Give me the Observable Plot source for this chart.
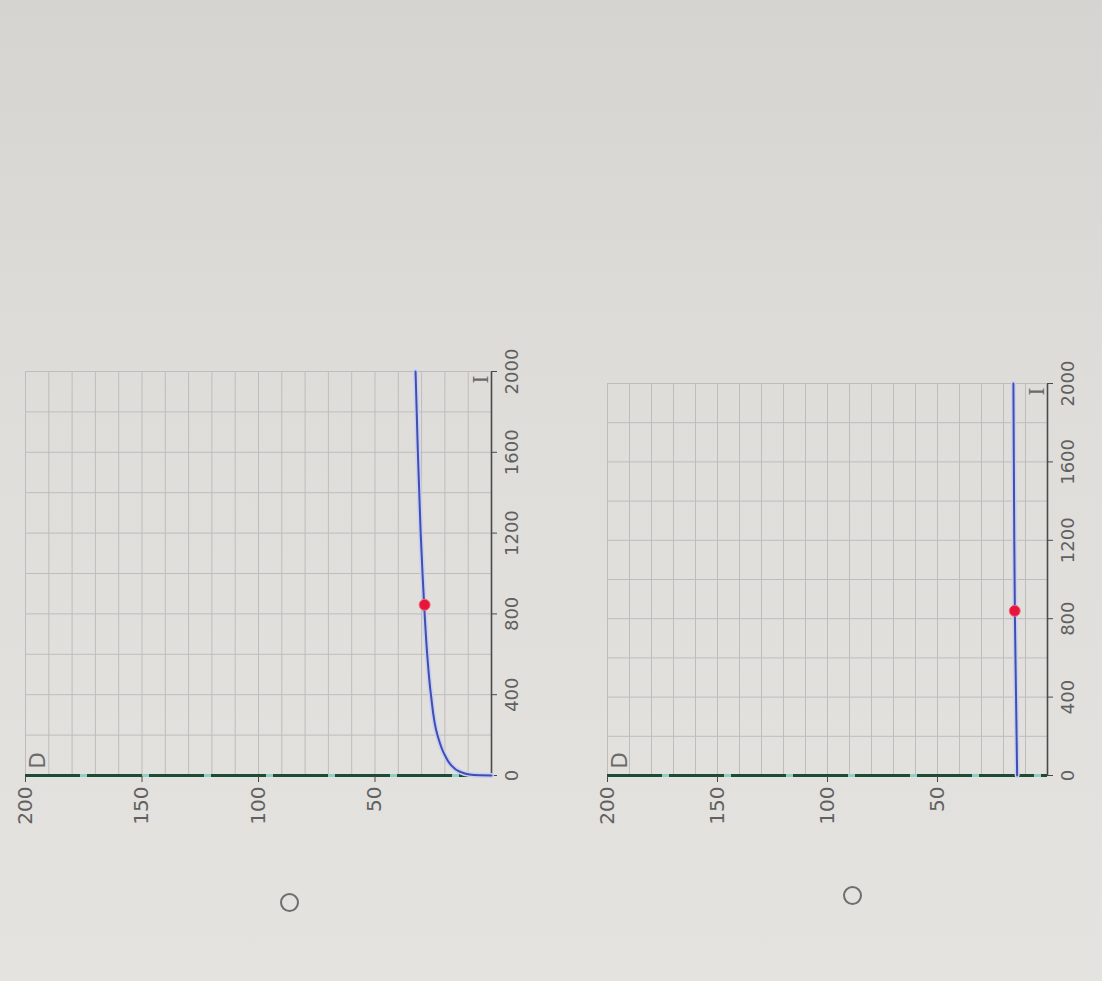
<!DOCTYPE html>
<html>
<head>
<meta charset="utf-8">
<script src="https://cdn.jsdelivr.net/npm/d3@7"></script>
<script src="https://cdn.jsdelivr.net/npm/@observablehq/plot@0.6"></script>
<style>
  html, body { margin: 0; padding: 0; }
  body {
    width: 1102px; height: 981px; overflow: hidden; position: relative;
    background: linear-gradient(to bottom, #d6d4d0 0%, #dfddd9 40%, #e5e3df 100%);
    font-family: "DejaVu Sans", sans-serif;
  }
  .chart { position: absolute; transform-origin: 0 0; }
  .radio {
    position: absolute; width: 15px; height: 15px; border-radius: 50%;
    border: 2.5px solid #6e6e6e; box-sizing: content-box;
  }
</style>
</head>
<body>
<div id="c1" class="chart"></div>
<div id="c2" class="chart"></div>
<div class="radio" style="left:280px; top:893px;"></div>
<div class="radio" style="left:843px; top:886px;"></div>
<script>
// ---- data ----
// x axis: I, y axis: D
const xTicks = [0, 400, 800, 1200, 1600, 2000];
const yTicks = [50, 100, 150, 200];

// chart 1 curve
const curve1I = [0, 1, 5, 20, 50, 100, 200, 400, 600, 800, 1000, 1200, 1400, 1600, 1800, 2000];
const curve1D = [0, 5, 9.5, 13.8, 17.2, 20, 23.2, 26, 27.6, 28.7, 29.6, 30.4, 31, 31.6, 32.1, 32.6];

// chart 2 curve
const curve2I = [0, 400, 800, 1200, 1600, 2000];
const curve2D = [13.8, 14.3, 14.8, 15.1, 15.3, 15.5];

// highlighted points (chart 1, chart 2)
const pointI = [845, 840];
const pointD = [28.7, 14.9];

const axisLabels = ["D", "I"];

function makeChart(curveI, curveD, pI, pD, plotW, plotH) {
  const mL = 50, mR = 15, mT = 12, mB = 40;
  const W = mL + plotW + mR, H = mT + plotH + mB;
  const data = curveI.map((v, i) => ({I: v, D: curveD[i]}));
  const fmt = d => String(d);
  const chart = Plot.plot({
    width: W, height: H,
    marginLeft: mL, marginRight: mR, marginTop: mT, marginBottom: mB,
    x: {domain: [0, 2000]},
    y: {domain: [0, 200]},
    style: {background: "transparent", fontFamily: "DejaVu Sans", color: "#5a5a5a", overflow: "visible"},
    marks: [
      Plot.gridX(d3.range(0, 2001, 200), {stroke: "#bdbdbd", strokeOpacity: 1, strokeWidth: 1}),
      Plot.gridY(d3.range(0, 201, 10), {stroke: "#bdbdbd", strokeOpacity: 1, strokeWidth: 1}),
      Plot.ruleY([0], {stroke: "#4a4a4a", strokeWidth: 1.6}),
      Plot.ruleX([0], {stroke: "#8fd0c2", strokeWidth: 3}),
      Plot.ruleX([0], {stroke: "#1f4a35", strokeWidth: 3, strokeDasharray: "55,7"}),
      Plot.axisX({ticks: xTicks, tickFormat: fmt, tickSize: 6, tickPadding: 8, fontSize: 18, label: null, stroke: "#4a4a4a", fill: "#606060"}),
      Plot.axisY({ticks: yTicks, tickFormat: fmt, tickSize: 6, tickPadding: 5, fontSize: 20, label: null, stroke: "#4a4a4a", fill: "#606060"}),
      Plot.line(data, {x: "I", y: "D", stroke: "#c9cff0", strokeWidth: 5, curve: "monotone-x"}),
      Plot.line(data, {x: "I", y: "D", stroke: "#3f4fb0", strokeWidth: 2, curve: "monotone-x"}),
      Plot.dot([{I: pI, D: pD}], {x: "I", y: "D", r: 5.5, fill: "#e8143c", stroke: "#f06a80", strokeWidth: 1}),
      Plot.text([axisLabels[0]], {frameAnchor: "top-left", dx: 7, dy: 5, textAnchor: "start", lineAnchor: "top", fontSize: 21, fill: "#6a6a6a"}),
      Plot.text([axisLabels[1]], {frameAnchor: "bottom-right", dx: -4, dy: -4, textAnchor: "end", lineAnchor: "bottom", fontSize: 21, fill: "#6a6a6a", fontFamily: "DejaVu Serif"})
    ]
  });
  return {chart, W, H, mL, mT};
}

function place(id, res, originX, originY, plotH) {
  const el = document.getElementById(id);
  el.appendChild(res.chart);
  const L = originX - res.mT - plotH;
  const T = originY - (res.W - res.mL);
  el.style.left = L + "px";
  el.style.top = T + "px";
  el.style.width = res.W + "px";
  el.style.height = res.H + "px";
  el.style.transform = `translate(0px, ${res.W}px) rotate(-90deg)`;
}

const r1 = makeChart(curve1I, curve1D, pointI[0], pointD[0], 404, 466);
place("c1", r1, 491, 776, 466);
const r2 = makeChart(curve2I, curve2D, pointI[1], pointD[1], 392, 440);
place("c2", r2, 1047, 776, 440);
</script>
</body>
</html>
